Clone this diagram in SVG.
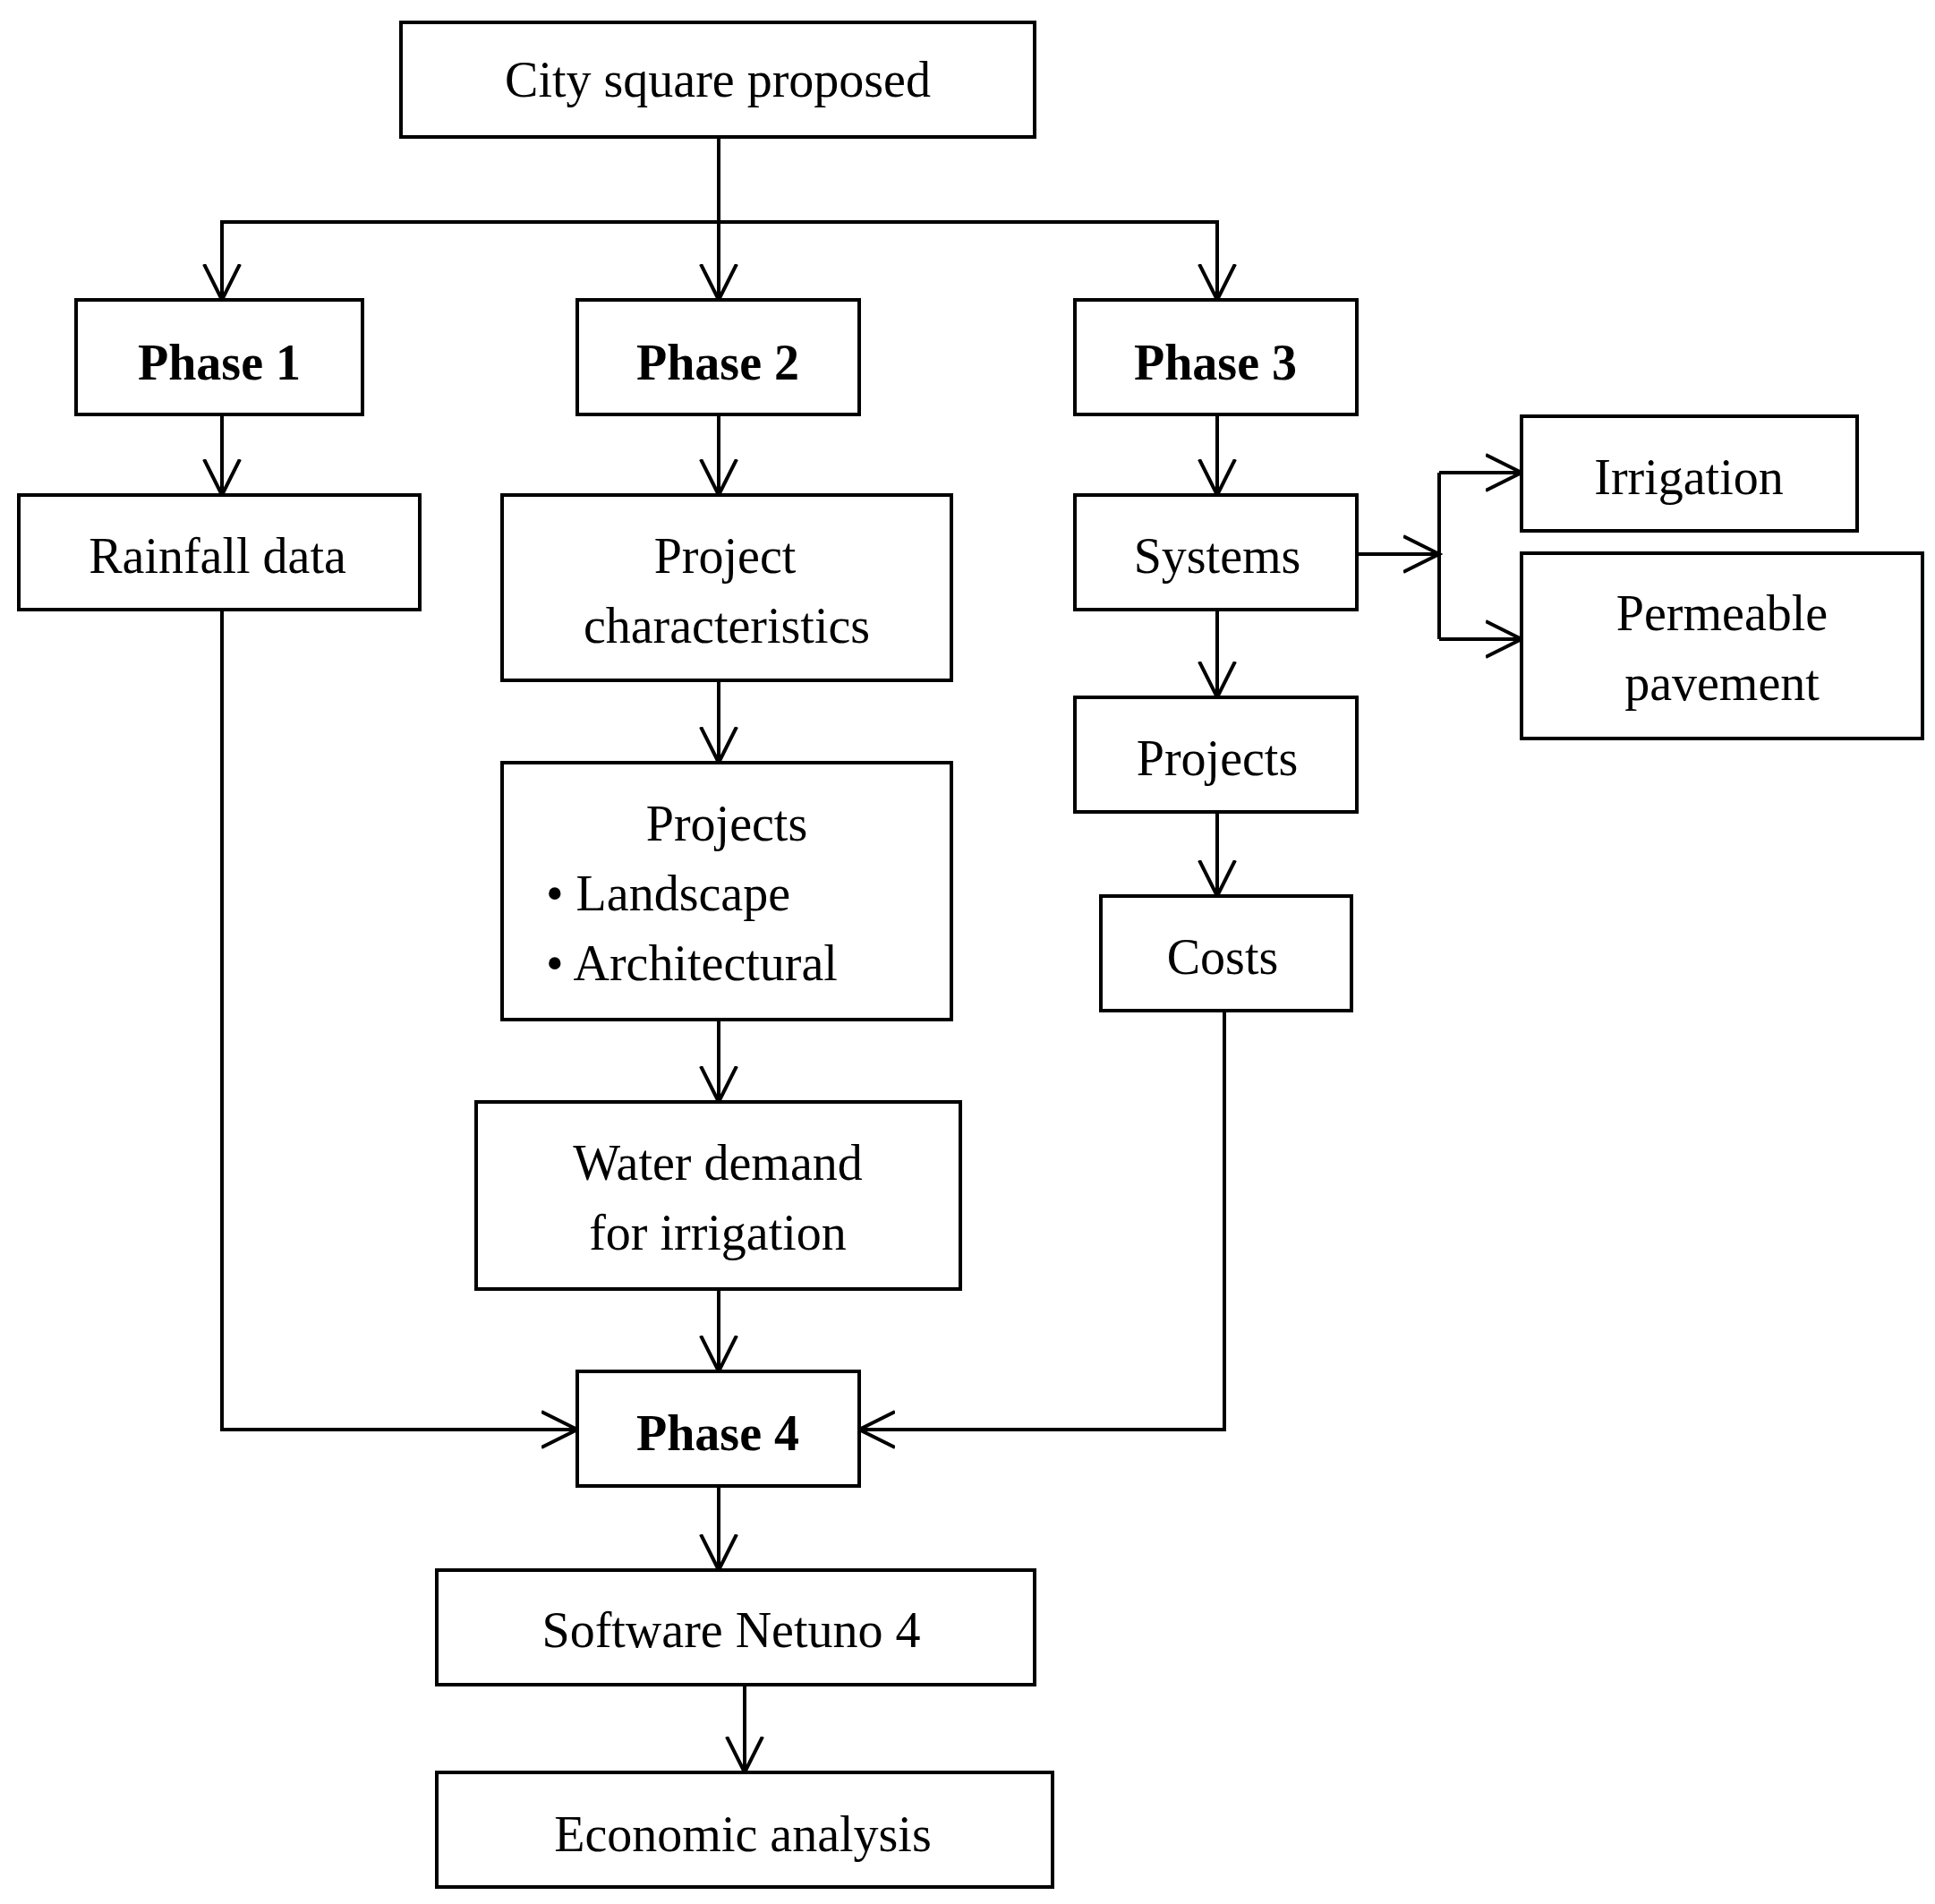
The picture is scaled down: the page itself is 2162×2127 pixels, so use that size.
<svg xmlns="http://www.w3.org/2000/svg" width="2162" height="2127" viewBox="0 0 2162 2127">
<style>
rect{fill:#fff;stroke:#000;stroke-width:4}
text{font-family:"Liberation Serif",serif;font-size:56px;text-anchor:middle;fill:#000}
.b{font-weight:bold}
#connectors path{fill:none;stroke:#000;stroke-width:4}
</style>
<defs>
<marker id="a" markerUnits="userSpaceOnUse" markerWidth="50" markerHeight="50" refX="40" refY="22" orient="auto" viewBox="0 0 50 44">
<path d="M0,2 L40,22 L0,42" fill="none" stroke="#000" stroke-width="4"/>
</marker>
</defs>
<rect width="2162" height="2127" style="stroke:none"/>
<g id="connectors">
<path d="M803,153 V248"/>
<path d="M803,248 H248 V335" marker-end="url(#a)"/>
<path d="M803,248 V335" marker-end="url(#a)"/>
<path d="M803,248 H1360 V335" marker-end="url(#a)"/>
<path d="M248,463 V553" marker-end="url(#a)"/>
<path d="M803,463 V553" marker-end="url(#a)"/>
<path d="M1360,463 V553" marker-end="url(#a)"/>
<path d="M803,760 V852" marker-end="url(#a)"/>
<path d="M803,1139 V1231" marker-end="url(#a)"/>
<path d="M803,1440 V1532" marker-end="url(#a)"/>
<path d="M803,1660 V1754" marker-end="url(#a)"/>
<path d="M832,1882 V1980" marker-end="url(#a)"/>
<path d="M1360,681 V779" marker-end="url(#a)"/>
<path d="M1360,907 V1001" marker-end="url(#a)"/>
<path d="M248,681 V1597 H645" marker-end="url(#a)"/>
<path d="M1368,1129 V1597 H960" marker-end="url(#a)"/>
<path d="M1516,619 H1608" marker-end="url(#a)"/>
<path d="M1608,528 V714"/>
<path d="M1608,528 H1700" marker-end="url(#a)"/>
<path d="M1608,714 H1700" marker-end="url(#a)"/>
</g>
<g id="city"><rect x="448" y="25" width="708" height="128"/><text x="802" y="108">City square proposed</text></g>
<g id="phase1"><rect x="85" y="335" width="320" height="128"/><text class="b" x="245" y="424">Phase 1</text></g>
<g id="phase2"><rect x="645" y="335" width="315" height="128"/><text class="b" x="802" y="424">Phase 2</text></g>
<g id="phase3"><rect x="1201" y="335" width="315" height="128"/><text class="b" x="1358" y="424">Phase 3</text></g>
<g id="rainfall"><rect x="21" y="553" width="448" height="128"/><text x="243" y="640">Rainfall data</text></g>
<g id="projchar"><rect x="561" y="553" width="502" height="207"/><text x="810" y="640">Project</text><text x="812" y="718">characteristics</text></g>
<g id="projects2"><rect x="561" y="852" width="502" height="287"/><text x="812" y="939">Projects</text><text x="610" y="1017" style="text-anchor:start">• Landscape</text><text x="610" y="1095" style="text-anchor:start">• Architectural</text></g>
<g id="water"><rect x="532" y="1231" width="541" height="209"/><text x="802" y="1318">Water demand</text><text x="802" y="1396">for irrigation</text></g>
<g id="phase4"><rect x="645" y="1532" width="315" height="128"/><text class="b" x="802" y="1620">Phase 4</text></g>
<g id="software"><rect x="488" y="1754" width="668" height="128"/><text x="817" y="1840">Software Netuno 4</text></g>
<g id="economic"><rect x="488" y="1980" width="688" height="128"/><text x="830" y="2068">Economic analysis</text></g>
<g id="systems"><rect x="1201" y="553" width="315" height="128"/><text x="1360" y="640">Systems</text></g>
<g id="projects3"><rect x="1201" y="779" width="315" height="128"/><text x="1360" y="866">Projects</text></g>
<g id="costs"><rect x="1230" y="1001" width="280" height="128"/><text x="1366" y="1088">Costs</text></g>
<g id="irrigation"><rect x="1700" y="465" width="375" height="128"/><text x="1887" y="552">Irrigation</text></g>
<g id="permeable"><rect x="1700" y="618" width="448" height="207"/><text x="1924" y="704">Permeable</text><text x="1924" y="782">pavement</text></g>
</svg>
